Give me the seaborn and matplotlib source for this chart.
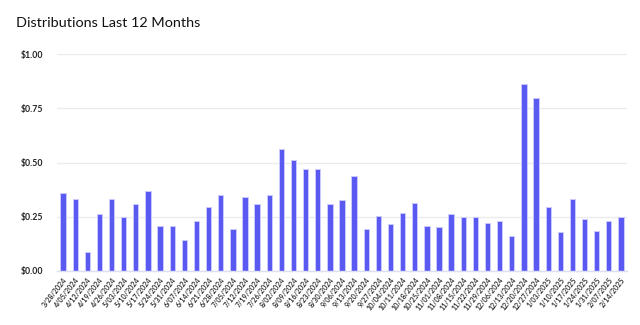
import matplotlib
matplotlib.use("Agg")
import matplotlib.pyplot as plt
import seaborn as sns
import numpy as np
import pandas as pd
from matplotlib.ticker import FuncFormatter, FixedLocator

dates = ["3/28/2024", "4/05/2024", "4/12/2024", "4/19/2024", "4/26/2024", "5/03/2024",
         "5/10/2024", "5/17/2024", "5/24/2024", "5/31/2024", "6/07/2024", "6/14/2024",
         "6/21/2024", "6/28/2024", "7/05/2024", "7/12/2024", "7/19/2024", "7/26/2024",
         "8/02/2024", "8/09/2024", "8/16/2024", "8/23/2024", "8/30/2024", "9/06/2024",
         "9/13/2024", "9/20/2024", "9/27/2024", "10/04/2024", "10/11/2024", "10/18/2024",
         "10/25/2024", "11/01/2024", "11/08/2024", "11/15/2024", "11/22/2024", "11/29/2024",
         "12/06/2024", "12/13/2024", "12/20/2024", "12/27/2024", "1/03/2025", "1/10/2025",
         "1/17/2025", "1/24/2025", "1/31/2025", "2/07/2025", "2/14/2025"]
distributions = [0.360, 0.330, 0.086, 0.262, 0.330, 0.247, 0.308, 0.370, 0.208, 0.208,
                 0.140, 0.231, 0.294, 0.351, 0.193, 0.342, 0.307, 0.351, 0.564, 0.510,
                 0.471, 0.471, 0.307, 0.327, 0.439, 0.193, 0.253, 0.214, 0.265, 0.313,
                 0.206, 0.202, 0.261, 0.250, 0.247, 0.219, 0.231, 0.162, 0.864, 0.798,
                 0.294, 0.180, 0.331, 0.240, 0.183, 0.228, 0.247]
y_ticks = [0.0, 0.25, 0.5, 0.75, 1.0]

df = pd.DataFrame({"date": dates, "value": distributions})

sns.set_theme(style="white")
plt.rcParams["font.family"] = ["Lato", "DejaVu Sans"]

fig = plt.figure(figsize=(6.4, 3.25), dpi=100)
ax = fig.add_axes([57 / 640, 1 - 270.7 / 325, 570 / 640, (270.7 - 54.3) / 325])

sns.barplot(data=df, x="date", y="value", ax=ax, color="#5a5af2", width=0.44,
            edgecolor="#c9c9ff", linewidth=0.7, saturation=1)

ax.set_xlim(-0.5, len(dates) - 0.5)
ax.set_ylim(0, 1.0)
ax.yaxis.set_major_locator(FixedLocator(y_ticks))
ax.yaxis.set_major_formatter(FuncFormatter(lambda v, p: f"${v:.2f}"))
ax.grid(axis="y", color="#ebebeb", linewidth=1.0)
ax.set_axisbelow(True)
for s in ["top", "right", "left"]:
    ax.spines[s].set_visible(False)
ax.spines["bottom"].set_color("#dde0f2")
ax.spines["bottom"].set_linewidth(1.0)

ax.set_xlabel("")
ax.set_ylabel("")
ax.tick_params(axis="y", length=0, pad=10, labelsize=6.3, labelcolor="#222222")
ax.set_xticks(range(len(dates)))
ax.set_xticklabels(dates, rotation=52, ha="right", rotation_mode="anchor",
                   fontsize=5.1, color="#222222", fontweight="semibold")
ax.tick_params(axis="x", which="major", length=0, pad=4)
ax.set_xticks(np.arange(-0.5, len(dates), 1.0), minor=True)
ax.tick_params(axis="x", which="minor", length=4, color="#dde0f2", width=0.8)
for lbl in ax.get_yticklabels():
    lbl.set_fontweight("bold")

fig.text(16 / 640, 1 - 23 / 325, "Distributions Last 12 Months", fontsize=10.4,
         color="#111111", va="center", ha="left")

fig.savefig("out.png", dpi=100, facecolor="white")
